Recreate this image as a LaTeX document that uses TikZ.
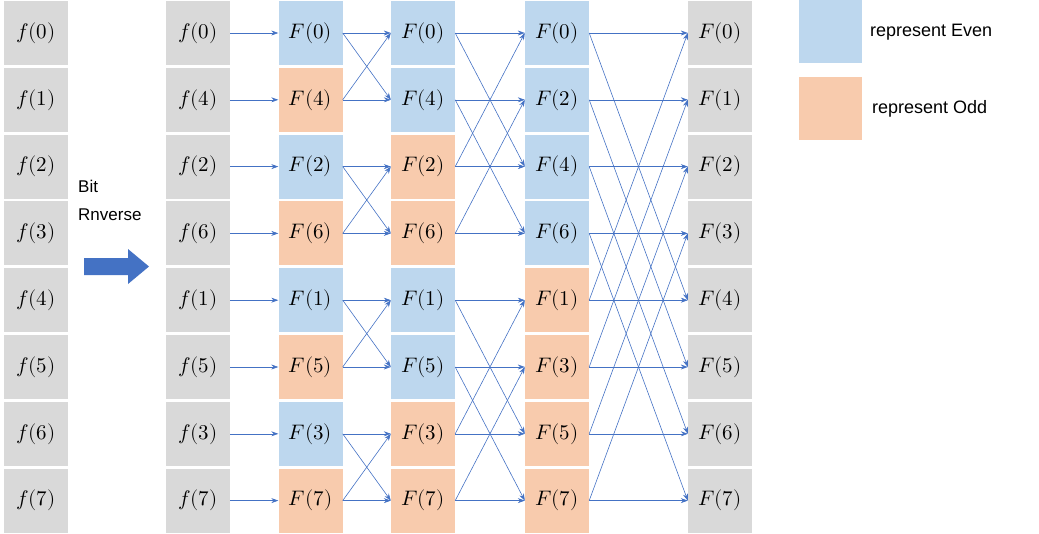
\documentclass[tikz,border=0pt]{standalone}
\usepackage{fontspec}
\setmainfont{Liberation Sans}
\usepackage{unicode-math}
\setmathfont{Latin Modern Math}
\usetikzlibrary{arrows.meta}
\definecolor{gbox}{HTML}{D9D9D9}
\definecolor{bbox}{HTML}{BDD7EE}
\definecolor{obox}{HTML}{F8CBAD}
\definecolor{arr}{HTML}{4472C4}
\begin{document}
\begin{tikzpicture}[x=1pt,y=-1pt,
  cell/.style={minimum width=64pt,minimum height=64pt,inner sep=0pt,font=\fontsize{21}{24}\selectfont},
  ln/.style={draw=arr,line width=0.6pt,-{Stealth[length=7pt,width=5pt]}}]
\useasboundingbox (0,0) rectangle (1039,533);
\def\lab{{0,4,2,6,1,5,3,7}}
\def\labe{{0,2,4,6,1,3,5,7}}
\foreach \i in {0,...,7}{
  \pgfmathsetmacro{\yy}{33+66.8*\i}
  \pgfmathtruncatemacro{\a}{\lab[\i]}
  \pgfmathtruncatemacro{\b}{\labe[\i]}
  \pgfmathtruncatemacro{\pc}{mod(\i,2)}
  \pgfmathtruncatemacro{\pd}{mod(\i,4)>1}
  \pgfmathtruncatemacro{\pe}{\i>3}
  \ifnum\pc=0 \def\cc{bbox}\else\def\cc{obox}\fi
  \ifnum\pd=0 \def\cd{bbox}\else\def\cd{obox}\fi
  \ifnum\pe=0 \def\ce{bbox}\else\def\ce{obox}\fi
  \node[cell,fill=gbox] (a\i) at (36,\yy) {$f(\i)$};
  \node[cell,fill=gbox] (b\i) at (198,\yy) {$f(\a)$};
  \node[cell,fill=\cc] (c\i) at (310.5,\yy) {$F(\a)$};
  \node[cell,fill=\cd] (d\i) at (423,\yy) {$F(\a)$};
  \node[cell,fill=\ce] (e\i) at (557,\yy) {$F(\b)$};
  \node[cell,fill=gbox] (g\i) at (720,\yy) {$F(\i)$};
}
\foreach \i in {0,...,7}{
  \draw[ln] (b\i.east) -- (c\i.west);
  \pgfmathtruncatemacro{\p}{\i+1-2*mod(\i,2)}
  \draw[ln] (c\i.east) -- (d\i.west);
  \draw[ln] (c\i.east) -- (d\p.west);
  \pgfmathtruncatemacro{\q}{\i+2-4*(mod(\i,4)>1)}
  \draw[ln] (d\i.east) -- (e\i.west);
  \draw[ln] (d\i.east) -- (e\q.west);
  \pgfmathtruncatemacro{\r}{\i+4-8*(\i>3)}
  \draw[ln] (e\i.east) -- (g\i.west);
  \draw[ln] (e\i.east) -- (g\r.west);
}
\node[anchor=west,font=\fontsize{17}{28}\selectfont,align=left,inner sep=0pt] (bt) at (78,200) {Bit\\Rnverse};
\fill[arr] (84,258) -- (128,258) -- (128,249) -- (149,266.5) -- (128,284) -- (128,275) -- (84,275) -- cycle;
\node[fill=bbox,minimum width=63pt,minimum height=63pt,inner sep=0pt] (le) at (830.5,31.5) {};
\node[anchor=west,font=\fontsize{18}{20}\selectfont,inner sep=0pt] (lt1) at (870,32) {represent Even};
\node[fill=obox,minimum width=63pt,minimum height=63pt,inner sep=0pt] (lo) at (830.5,108.5) {};
\node[anchor=west,font=\fontsize{18}{20}\selectfont,inner sep=0pt] (lt2) at (872,109) {represent Odd};
\end{tikzpicture}
\end{document}
